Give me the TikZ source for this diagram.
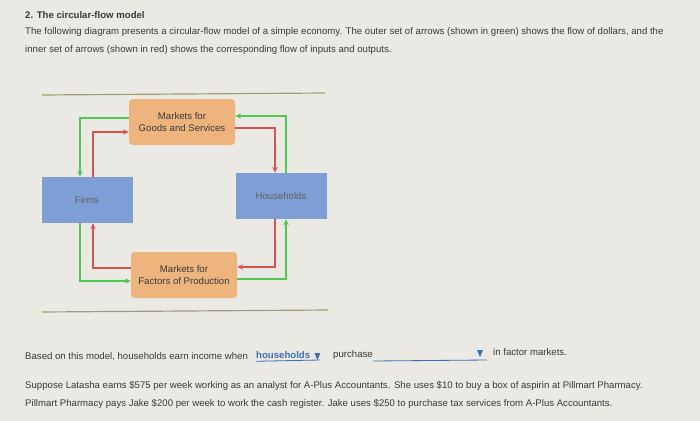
\documentclass[tikz,border=0pt]{standalone}
\usepackage{fontspec}
\setmainfont{Liberation Sans}
\usetikzlibrary{arrows.meta,positioning,shapes.geometric}
\definecolor{paper}{HTML}{EAE9E4}
\definecolor{mkt}{HTML}{EEB47E}
\definecolor{agent}{HTML}{7E9FD6}
\definecolor{money}{HTML}{52C652}
\definecolor{goods}{HTML}{D9534F}
\definecolor{ink}{HTML}{3A3A3A}
\definecolor{link}{HTML}{3F6FB5}
\tikzset{
  >={Stealth[length=5pt,width=4.5pt]},
  market/.style={fill=mkt,rounded corners=3pt,minimum width=106\unitlen,minimum height=46\unitlen,align=center,text=ink,font=\fontsize{8.2}{9.5}\selectfont},
  agentbox/.style={fill=agent,minimum width=91\unitlen,minimum height=46\unitlen,text=ink!80,font=\fontsize{8.2}{9.5}\selectfont},
  outer/.style={money,line width=1.3pt,->},
  inner/.style={goods,line width=1.3pt,->},
  txt/.style={anchor=west,inner sep=0pt,text=ink,font=\fontsize{8.2}{9.5}\selectfont},
  rule/.style={draw=black!30!yellow!40!gray,line width=1pt},
  dropdown/.style={fill=link,isosceles triangle,shape border rotate=-90,inner sep=0pt,minimum size=5pt},
}
\newlength{\unitlen}\setlength{\unitlen}{0.03cm}
\begin{document}
\begin{tikzpicture}[x=0.03cm,y=-0.03cm]
  \fill[paper] (0,0) rectangle (700,421);
  \useasboundingbox (0,0) rectangle (700,421);

  % heading and intro
  \node[txt,font=\bfseries\fontsize{8.2}{9.5}\selectfont] (title) at (25,15) {2. The circular-flow model};
  \node[txt] (intro1) at (25,32) {The following diagram presents a circular-flow model of a simple economy. The outer set of arrows (shown in green) shows the flow of dollars, and the};
  \node[txt] (intro2) at (25,50) {inner set of arrows (shown in red) shows the corresponding flow of inputs and outputs.};

  \draw[rule] (42,95) -- (325,93);
  \draw[rule] (42,312) -- (328,310);

  % boxes
  \node[market] (gs) at (182,122) {Markets for\\Goods and Services};
  \node[market] (fp) at (184,275) {Markets for\\Factors of Production};
  \node[agentbox] (firms) at (87,200) {Firms};
  \node[agentbox] (hh) at (281,196) {Households};

  % outer (dollars)
  \draw[outer] (gs.west |- 0,118) -| (80,0 |- firms.north);
  \draw[outer] (286,0 |- hh.north) |- (gs.east |- 0,116);
  \draw[outer] (80,0 |- firms.south) |- (fp.west |- 0,281);
  \draw[outer] (fp.east |- 0,279) -| (286,0 |- hh.south);
  % inner (goods and inputs)
  \draw[inner] (93,0 |- firms.north) |- (gs.west |- 0,132);
  \draw[inner] (gs.east |- 0,128) -| (275,0 |- hh.north);
  \draw[inner] (275,0 |- hh.south) |- (fp.east |- 0,267);
  \draw[inner] (fp.west |- 0,268) -| (93,0 |- firms.south);

  % question
  \node[txt] (q1) at (25,357) {Based on this model, households earn income when};
  \node[txt,text=link,font=\bfseries\fontsize{8.2}{9.5}\selectfont] (ans) at (256,355) {households};
  \node[dropdown] (tri1) [right=4pt of ans] {};
  \draw[link,line width=0.7pt] (ans.south west) ++(0,2.5) -- (tri1.east |- 0,360);
  \node[txt] (q2) at (333,355) {purchase};
  \coordinate (blankl) at (373,361);
  \node[dropdown] (tri2) at (480,352) {};
  \draw[link,line width=0.7pt] (blankl) -- (487,360);
  \node[txt] (q3) at (493,352) {in factor markets.};

  \node[txt] (s1) at (25,386) {Suppose Latasha earns \$575 per week working as an analyst for A-Plus Accountants. She uses \$10 to buy a box of aspirin at Pillmart Pharmacy.};
  \node[txt] (s2) at (25,404) {Pillmart Pharmacy pays Jake \$200 per week to work the cash register. Jake uses \$250 to purchase tax services from A-Plus Accountants.};
\end{tikzpicture}
\end{document}
